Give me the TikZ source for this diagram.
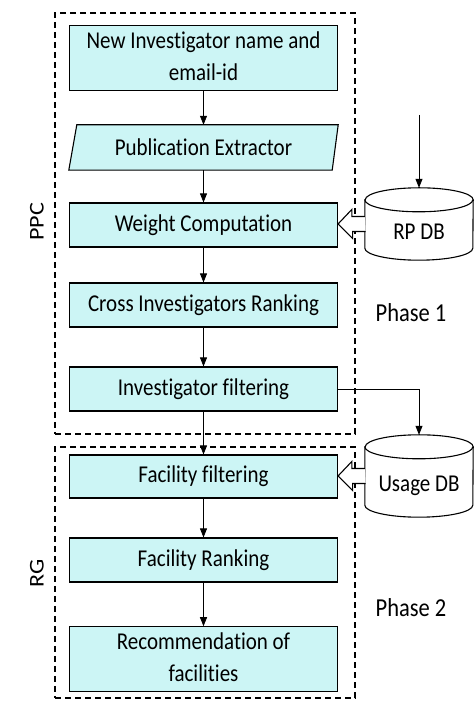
\documentclass[tikz,border=0pt]{standalone}
\usepackage{fontspec}
\setmainfont{Carlito}[Ligatures=NoCommon]
\usetikzlibrary{arrows.meta,calc,backgrounds}
\definecolor{boxfill}{RGB}{204,245,245}
\newcommand{\vst}[1]{\scalebox{1}[1.15]{#1}}
\newcommand{\hst}[1]{\scalebox{1.15}[1]{#1}}
\tikzset{
 procbox/.style={draw=black, line width=1.1pt, fill=boxfill, minimum width=268pt, inner sep=0pt, font=\fontsize{21}{28}\selectfont},
 flow/.style={-{Triangle[length=9pt,width=7pt]}, line width=0.8pt},
 group/.style={draw, dash pattern=on 6pt off 4pt, line width=1.3pt, inner sep=0pt},
 blk/.style={draw, fill=white, line width=1.1pt, line join=miter},
 dbtext/.style={minimum width=108pt, inner sep=0pt, font=\fontsize{21}{26}\selectfont},
 dbline/.style={draw, line width=1.1pt, fill=white},
 lbl/.style={font=\fontsize{22.5}{27}\selectfont},
 sidelbl/.style={font=\fontsize{21}{26}\selectfont, rotate=90},
}
\begin{document}
\begin{tikzpicture}[x=1pt,y=1pt]
\useasboundingbox (0,0) rectangle (474,711);
% group frames
\node[group, minimum width=300pt, minimum height=421pt] (ppcbox) at (205,487.5) {};
\node[group, minimum width=300pt, minimum height=251pt] (rgbox) at (205,138.5) {};
\node[sidelbl] (ppc) at (37,489) {\hst{PPC}};
\node[sidelbl] (rg) at (37,138) {\hst{RG}};
\node[lbl] (ph1) at (411,398) {\vst{Phase 1}};
\node[lbl] (ph2) at (411,103) {\vst{Phase 2}};
% process boxes
\node[procbox, minimum height=58pt] (nin) at (203.5,653) {\vst{\begin{tabular}{@{}c@{}}New Investigator name and\\email-id\end{tabular}}};
\node[minimum width=269pt, minimum height=45pt, inner sep=0pt, font=\fontsize{21}{28}\selectfont] (pe) at (203.5,563.5) {\vst{Publication Extractor}};
\begin{scope}[on background layer]
\draw[fill=boxfill, line width=1.1pt] ([xshift=8pt]pe.north west) -- (pe.north east) -- ([xshift=-6pt]pe.south east) -- (pe.south west) -- cycle;
\end{scope}
\node[procbox, minimum height=44pt] (wc) at (203.5,486) {\vst{Weight Computation}};
\node[procbox, minimum height=44pt] (cir) at (203.5,406) {\vst{Cross Investigators Ranking}};
\node[procbox, minimum height=44pt] (inf) at (203.5,322) {\vst{Investigator filtering}};
\node[procbox, minimum height=43pt] (ff) at (203.5,234.5) {\vst{Facility filtering}};
\node[procbox, minimum height=44pt] (fr) at (203.5,151) {\vst{Facility Ranking}};
\node[procbox, minimum height=58pt] (rec) at (203.5,52) {\vst{\begin{tabular}{@{}c@{}}Recommendation of\\facilities\end{tabular}}};
% databases
\node[dbtext, minimum height=72pt] (rpdb) at (419,487) {};
\node[dbtext, minimum height=82pt] (udb) at (419,235) {};
\path[dbline] ([yshift=-12pt]rpdb.north west) -- ([yshift=12pt]rpdb.south west) arc[start angle=180,end angle=360,x radius=54pt,y radius=12pt] -- ([yshift=-12pt]rpdb.north east) arc[start angle=0,end angle=180,x radius=54pt,y radius=12pt] -- cycle;
\draw[line width=1.1pt] ([yshift=-12pt]rpdb.north west) arc[start angle=180,end angle=360,x radius=54pt,y radius=12pt];
\node[dbtext] at ([yshift=-8pt]rpdb.center) {\vst{RP DB}};
\path[dbline] ([yshift=-12pt]udb.north west) -- ([yshift=12pt]udb.south west) arc[start angle=180,end angle=360,x radius=54pt,y radius=12pt] -- ([yshift=-12pt]udb.north east) arc[start angle=0,end angle=180,x radius=54pt,y radius=12pt] -- cycle;
\draw[line width=1.1pt] ([yshift=-12pt]udb.north west) arc[start angle=180,end angle=360,x radius=54pt,y radius=12pt];
\node[dbtext] at ([yshift=-10pt]udb.center) {\vst{Usage DB}};
% block arrows
\draw[blk] ([yshift=7.5pt]rpdb.west) -- ++(-13,0) -- ++(0,7) -- (wc.east |- rpdb.west) -- ++(14.5,-14.5) -- ++(0,7) -- ++(13,0);
\draw[blk] ([yshift=7.5pt]udb.west) -- ++(-13,0) -- ++(0,7) -- (ff.east |- udb.west) -- ++(14.5,-14.5) -- ++(0,7) -- ++(13,0);
% flow arrows
\coordinate (rpin) at (419,596);
\draw[flow] (rpin) -- (rpdb.north);
\draw[flow] (nin) -- (pe);
\draw[flow] (pe) -- (wc);
\draw[flow] (wc) -- (cir);
\draw[flow] (cir) -- (inf);
\draw[flow] (inf) -- (ff);
\draw[flow] (ff) -- (fr);
\draw[flow] (fr) -- (rec);
\draw[flow] (inf.east) -| (udb.north);
\end{tikzpicture}
\end{document}
